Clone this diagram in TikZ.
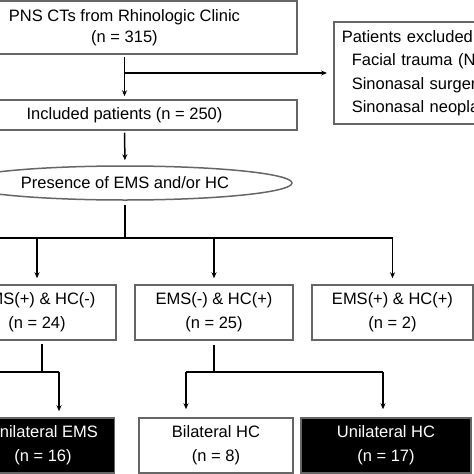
\documentclass[tikz,border=0pt]{standalone}
\usepackage{fontspec}
\setmainfont{Liberation Sans}
\usetikzlibrary{shapes.geometric,arrows.meta}

\begin{document}
\begin{tikzpicture}[x=1pt, y=-1pt,
    every node/.style={font=\fontsize{16.5}{24}\selectfont},
    box/.style={rectangle, draw=gray!80!black, line width=1.5pt, align=center, inner sep=0pt, minimum height=55pt},
    darkbox/.style={box, fill=black, text=white},
    arr/.style={-{Stealth[length=6pt,width=5pt]}, line width=1.5pt},
    ln/.style={line width=1.5pt}]
    \useasboundingbox (0,0) rectangle (474,474);
    \clip (0,0) rectangle (474,474);

    \node[box, minimum width=345pt, minimum height=53pt] (ct) at (124.5,27.5) {PNS CTs from Rhinologic Clinic\\[-3pt](n = 315)};
    \node[box, minimum width=345pt, minimum height=30pt] (incl) at (124.5,115) {Included patients (n = 250)};
    \node[box, anchor=west, text width=220pt, inner xsep=8pt, minimum height=102pt, align=left,
          font=\fontsize{16.5}{23.5}\selectfont] (excl) at (333,73)
        {Patients excluded\\
         \hspace*{10pt}Facial trauma (N\\
         \hspace*{10pt}Sinonasal surgery\\
         \hspace*{10pt}Sinonasal neoplasm};
    \node[ellipse, draw=gray!80!black, line width=1.5pt, minimum width=334pt, minimum height=34pt, inner sep=0pt] (pres) at (125,183) {Presence of EMS and/or HC};

    \node[box, minimum width=158pt] (grp1) at (37,312.5) {EMS(+) \& HC(-)\\(n = 24)};
    \node[box, minimum width=158pt] (grp2) at (214,312.5) {EMS(-) \& HC(+)\\(n = 25)};
    \node[box, minimum width=161pt] (grp3) at (392.5,312.5) {EMS(+) \& HC(+)\\(n = 2)};

    \node[darkbox, minimum width=143pt] (uniems) at (43,445.5) {Unilateral EMS\\(n = 16)};
    \node[box, minimum width=154pt] (bilat) at (216,445.5) {Bilateral HC\\(n = 8)};
    \node[darkbox, minimum width=170pt] (unihc) at (386,445.5) {Unilateral HC\\(n = 17)};

    % screening
    \coordinate (exc) at (ct.south |- excl.west);
    \draw[arr, shorten <=2pt, shorten >=3pt] (ct.south) -- (incl.north);
    \draw[arr, shorten >=6pt] (exc) -- (excl.west);
    \draw[arr, shorten <=2pt, shorten >=5pt] (incl.south) -- (pres.north);

    % groups
    \coordinate (split2) at (125,238);
    \coordinate (lft2) at (-10,238);
    \draw[ln, shorten <=4pt] (pres.south) -- (split2);
    \draw[ln] (lft2) -- (grp3.north |- split2);
    \foreach \g in {grp1,grp2,grp3}
        \draw[arr, shorten >=6pt] (\g.north |- split2) -- (\g.north);

    % laterality
    \coordinate (split3a) at (42,372);
    \coordinate (lft3) at (-10,372);
    \coordinate (tgt3a) at (59,372);
    \draw[ln, shorten <=3pt] (split3a |- grp1.south) -- (split3a);
    \draw[ln] (lft3) -- (tgt3a);
    \draw[arr, shorten >=6pt] (tgt3a) -- (tgt3a |- uniems.north);

    \coordinate (split3b) at (214,372);
    \coordinate (tgt3b) at (186,372);
    \coordinate (tgt3c) at (383,372);
    \draw[ln, shorten <=4pt] (grp2.south) -- (split3b);
    \draw[ln] (tgt3b) -- (tgt3c);
    \draw[arr, shorten >=8pt] (tgt3b) -- (tgt3b |- bilat.north);
    \draw[arr, shorten >=8pt] (tgt3c) -- (tgt3c |- unihc.north);
\end{tikzpicture}
\end{document}
